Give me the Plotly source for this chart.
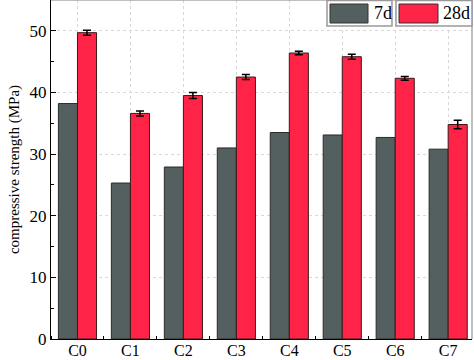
import plotly.graph_objects as go

categories = ["C0", "C1", "C2", "C3", "C4", "C5", "C6", "C7"]
d7 = [38.2, 25.3, 27.9, 31.0, 33.5, 33.1, 32.7, 30.8]
d28 = [49.7, 36.6, 39.5, 42.5, 46.4, 45.8, 42.3, 34.8]
d28_err = [0.4, 0.4, 0.5, 0.4, 0.3, 0.4, 0.3, 0.7]
series_names = ["7d", "28d"]

gray = "#545f5f"
red = "#ff2347"
font = "Liberation Serif, Times New Roman, serif"

xs = list(range(len(categories)))

fig = go.Figure()
fig.add_trace(go.Bar(
    x=xs, y=d7, name=series_names[0], showlegend=False,
    marker=dict(color=gray, line=dict(color="#2a2a2a", width=1)),
))
fig.add_trace(go.Bar(
    x=xs, y=d28, name=series_names[1], showlegend=False,
    marker=dict(color=red, line=dict(color="#3a1a1a", width=1)),
    error_y=dict(type="data", array=d28_err, color="black", thickness=1.5, width=4),
))

L, R, T, B = 51, 2, 0, 21
W, H = 474, 360
pw, ph = W - L - R, H - T - B

def px_x(p):
    return (p - L) / pw

def px_y(p):
    return (H - B - p) / ph

fig.update_layout(
    width=W, height=H,
    margin=dict(l=L, r=R, t=T, b=B, autoexpand=False),
    barmode="group", bargap=0.28, bargroupgap=0,
    plot_bgcolor="white", paper_bgcolor="white",
    font=dict(family=font, size=17, color="black"),
    showlegend=False,
    xaxis=dict(range=[-0.5, 7.45], tickvals=xs, ticktext=categories,
               showline=True, linecolor="black", linewidth=1.2,
               ticks="", showgrid=True, gridcolor="#d8d8d8", griddash="dot",
               zeroline=False, tickfont=dict(family=font, size=16),
               ticklabelstandoff=-3,
               minor=dict(tick0=0.5, dtick=1, ticks="inside", ticklen=3, tickcolor="black", showgrid=False)),
    yaxis=dict(range=[0, 55], tickvals=[0, 10, 20, 30, 40, 50],
               showline=True, linecolor="black", linewidth=1.2,
               ticks="inside", ticklen=5, tickcolor="black",
               showgrid=True, gridcolor="#d8d8d8", griddash="dot", zeroline=False,
               tickfont=dict(family=font, size=17),
               title=dict(text="compressive strength (MPa)", font=dict(family=font, size=15), standoff=6),
               minor=dict(dtick=5, ticks="inside", ticklen=3, tickcolor="black", showgrid=False)),
)
# top/right frame
fig.add_shape(type="line", xref="paper", yref="paper", x0=0, x1=1, y0=1, y1=1,
              line=dict(color="#aaaaaa", width=1.5))
fig.add_shape(type="line", xref="paper", yref="paper", x0=1, x1=1, y0=0, y1=1,
              line=dict(color="#aaaaaa", width=1.5))

# legend boxes (drawn manually)
legend_specs = [
    (series_names[0], gray, 327, 392, 330, 368, 372),
    (series_names[1], red, 396, 472, 399, 438, 441),
]
for name, col, bx0, bx1, sx0, sx1, tx in legend_specs:
    fig.add_shape(type="rect", xref="paper", yref="paper",
                  x0=px_x(bx0), x1=px_x(bx1), y0=px_y(26), y1=px_y(0.5),
                  line=dict(color="#999999", width=1.5), fillcolor="white", layer="above")
    fig.add_shape(type="rect", xref="paper", yref="paper",
                  x0=px_x(sx0), x1=px_x(sx1), y0=px_y(23), y1=px_y(4),
                  line=dict(color="#333333", width=1), fillcolor=col, layer="above")
    fig.add_annotation(xref="paper", yref="paper", x=px_x(tx), y=px_y(13.5),
                       xanchor="left", yanchor="middle", text=name, showarrow=False,
                       font=dict(family=font, size=18, color="black"))

fig.write_html("out.html", config={"displayModeBar": False},
               post_script="document.body.style.margin='0';document.body.style.overflow='hidden';")
